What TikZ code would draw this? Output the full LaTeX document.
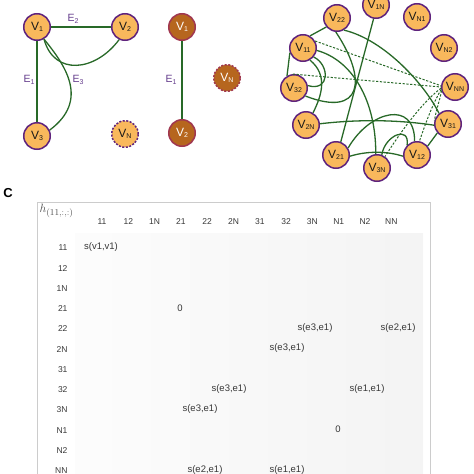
\documentclass[tikz,border=0pt]{standalone}
\usepackage{fontspec}
\setsansfont{Liberation Sans}
\definecolor{vor}{RGB}{249,184,92}
\definecolor{vpu}{RGB}{95,35,125}
\definecolor{gre}{RGB}{40,105,40}
\definecolor{bfill}{RGB}{182,102,30}
\definecolor{bdraw}{RGB}{160,55,80}
\definecolor{elab}{RGB}{100,60,140}
\definecolor{tgray}{RGB}{55,55,55}
\newcommand{\sbs}[1]{\raisebox{-0.25ex}{\fontsize{7}{7}\selectfont #1}}
\begin{document}
\begin{tikzpicture}[x=1pt,y=-1pt,
 vnode/.style={circle,draw=vpu,line width=1.5pt,fill=vor,minimum size=26.5pt,inner sep=0pt,font=\sffamily\fontsize{12}{12}\selectfont,text=black!90},
 bnode/.style={vnode,draw=bdraw,fill=bfill,text=white},
 dnode/.style={dash pattern=on 2pt off 1.5pt},
 gedge/.style={draw=gre,line width=1.3pt},
 gdash/.style={draw=gre,line width=1pt,dash pattern=on 2.2pt off 1.6pt},
 elabel/.style={font=\sffamily\fontsize{10.5}{11}\selectfont,text=elab},
 hcol/.style={font=\sffamily\fontsize{8.5}{9}\selectfont,text=tgray},
 cell/.style={font=\sffamily\fontsize{9.5}{10}\selectfont,text=tgray}]
\useasboundingbox (0,0) rectangle (474,474);
% ---------- panel A ----------
\node[vnode] (a1) at (37,27) {V\sbs{1}};
\node[vnode] (a2) at (125,27) {V\sbs{2}};
\node[vnode] (a3) at (37,136) {V\sbs{3}};
\node[vnode,dnode] (aN) at (125,134) {V\sbs{N}};
\draw[gedge] (a1) -- (a2);
\draw[gedge] (a1) -- (a3);
\draw[gedge] (a1.-60) .. controls (54,76) and (95,72) .. (a2.-115);
\draw[gedge] (a1.-60) .. controls (65,65) and (90,100) .. (a3.25);
\node[elabel] (e2) at (73,19) {E\sbs{2}};
\node[elabel] (e1) at (29,80) {E\sbs{1}};
\node[elabel] (e3) at (78,80) {E\sbs{3}};
% ---------- panel B ----------
\node[bnode] (b1) at (182,27) {V\sbs{1}};
\node[bnode] (b2) at (182,133) {V\sbs{2}};
\node[bnode,dnode] (bN) at (227,78) {V\sbs{N}};
\draw[gedge] (b1) -- (b2);
\node[elabel] (be1) at (171,80) {E\sbs{1}};
% ---------- panel C graph ----------
\node[vnode] (c1N) at (376,5) {V\sbs{1N}};
\node[vnode] (cN1) at (417,17) {V\sbs{N1}};
\node[vnode] (c22) at (337,18) {V\sbs{22}};
\node[vnode] (cN2) at (444,48) {V\sbs{N2}};
\node[vnode] (c11) at (303,48) {V\sbs{11}};
\node[vnode] (c32) at (294,88) {V\sbs{32}};
\node[vnode] (cNN) at (455,87) {V\sbs{NN}};
\node[vnode] (c2N) at (306,125) {V\sbs{2N}};
\node[vnode] (c31) at (448,124) {V\sbs{31}};
\node[vnode] (c21) at (336,155) {V\sbs{21}};
\node[vnode] (c12) at (417,155) {V\sbs{12}};
\node[vnode] (c3N) at (377,168) {V\sbs{3N}};
\draw[gedge] (c11.60) -- (c22.220);
\draw[gedge] (c22.-60) .. controls (385,40) and (425,85) .. (c31.130);
\draw[gedge] (c1N.-100) -- (c21.70);
\draw[gedge] (c22.-95) .. controls (368,80) and (362,118) .. (c32.-35);
\draw[gedge] (c11.-10) .. controls (352,60) and (376,100) .. (c3N.95);
\draw[gedge] (c11.-40) .. controls (330,65) and (330,92) .. (c32.10);
\draw[gedge] (c11.200) -- (c32.120);
\draw[gedge] (c2N.60) .. controls (322,95) and (328,75) .. (c11.-60);
\draw[gedge] (c2N.5) .. controls (360,119) and (400,120) .. (c31.185);
\draw[gedge] (c21.-5) .. controls (370,150) and (390,152) .. (c12.185);
\draw[gedge] (c21.30) .. controls (370,110) and (415,100) .. (c12.100);
\draw[gedge] (c3N.70) .. controls (385,135) and (410,125) .. (c12.135);
\draw[gedge] (c12.40) -- (c31.220);
\draw[gdash] (c11.30) -- (cNN.175);
\draw[gdash] (c32.95) -- (cNN.180);
\draw[gdash] (cNN.185) .. controls (425,100) and (405,125) .. (c3N.55);
\draw[gdash] (cNN.190) .. controls (432,105) and (425,125) .. (c12.80);
\draw[gdash] (cNN.195) .. controls (440,100) and (436,110) .. (c31.165);
% ---------- panel C table ----------
\node[font=\sffamily\bfseries\fontsize{13}{14}\selectfont] (lab) at (8,193) {C};
\draw[gray!40,line width=0.8pt] (37,202) rectangle (430,490);
\shade[left color=gray!2,right color=gray!9] (75,233) rectangle (423,490);
\node[text=black!70,font=\fontsize{13}{14}\selectfont,anchor=west] (hh) at (36,211) {$h_{(11,:,:)}$};
\foreach \c [count=\i from 0] in {11,12,1N,21,22,2N,31,32,3N,N1,N2,NN}{
  \node[hcol] (col\i) at (102+26.3*\i,222) {\c};
  \node[hcol,anchor=east] (row\i) at (71,248+20.25*\i) {\c};
}
\node[cell] (k1) at (101,247) {s(v1,v1)};
\node[cell] (k2) at (180,308) {0};
\node[cell] (k3) at (315,328) {s(e3,e1)};
\node[cell] (k4) at (398,328) {s(e2,e1)};
\node[cell] (k5) at (287,348) {s(e3,e1)};
\node[cell] (k6) at (229,389) {s(e3,e1)};
\node[cell] (k7) at (367,389) {s(e1,e1)};
\node[cell] (k8) at (200,409) {s(e3,e1)};
\node[cell] (k9) at (338,429) {0};
\node[cell] (k10) at (205,470) {s(e2,e1)};
\node[cell] (k11) at (287,470) {s(e1,e1)};
\end{tikzpicture}
\end{document}
